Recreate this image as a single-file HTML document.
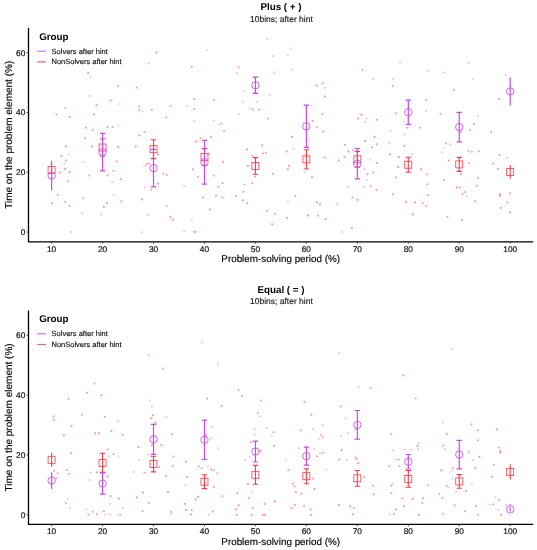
<!DOCTYPE html>
<html><head><meta charset="utf-8"><title>Time on the problem element</title>
<style>
html,body{margin:0;padding:0;background:#fff;}
svg{display:block;}
text{font-family:"Liberation Sans", Arial, Helvetica, sans-serif;fill:#000;text-rendering:geometricPrecision;}
.t{font-size:9.8px;font-weight:bold;text-anchor:middle;}
.st{font-size:8.5px;text-anchor:middle;fill:#111;stroke:#111;stroke-width:0.12px;}
.yl{font-size:8.3px;text-anchor:end;fill:#111;stroke:#111;stroke-width:0.2px;}
.xl{font-size:8.3px;text-anchor:middle;fill:#111;stroke:#111;stroke-width:0.2px;}
.at{font-size:9.85px;text-anchor:middle;stroke:#000;stroke-width:0.15px;}
.lt{font-size:9.8px;font-weight:bold;}
.lx{font-size:7.5px;fill:#111;stroke:#111;stroke-width:0.15px;}
.ax{stroke:#000;stroke-width:1.3;fill:none;}
.tk{stroke:#333;stroke-width:0.9;fill:none;}
.ep{stroke:#cc48f0;stroke-width:1.2;fill:none;}
.er{stroke:#f83a4a;stroke-width:1.1;fill:none;}
.mci{stroke:#cc48f0;stroke-width:0.85;fill:none;}
.msq{stroke:#f83a4a;stroke-width:0.8;fill:none;}
.lp{stroke:#cc48f0;stroke-width:1.2;fill:none;opacity:.8}
.lr{stroke:#f83a4a;stroke-width:1.2;fill:none;opacity:.8}
.dr{fill:#ff3050;opacity:.5}
.dp{fill:#c458ff;opacity:.35}
</style></head>
<body>
<svg width="537" height="550" viewBox="0 0 537 550">
<rect width="537" height="550" fill="#fff"/>
<g>
<text x="281" y="10.3" class="t">Plus ( + )</text>
<text x="281.4" y="21.8" class="st">10bins; after hint</text>
<circle cx="156.3" cy="52.5" r="1.05" class="dr"/>
<circle cx="148.8" cy="63.4" r="1.1" class="dp"/>
<circle cx="88.1" cy="72.9" r="1.05" class="dr"/>
<circle cx="90.9" cy="77.2" r="1.1" class="dp"/>
<circle cx="118.1" cy="86.1" r="1.05" class="dr"/>
<circle cx="136.8" cy="87.6" r="1.05" class="dr"/>
<circle cx="90.1" cy="95.9" r="1.1" class="dp"/>
<circle cx="110.6" cy="100.4" r="1.05" class="dr"/>
<circle cx="96.4" cy="105.0" r="1.05" class="dr"/>
<circle cx="119.7" cy="104.0" r="1.1" class="dp"/>
<circle cx="64.9" cy="107.9" r="1.1" class="dp"/>
<circle cx="267.3" cy="39.2" r="1.1" class="dp"/>
<circle cx="207.2" cy="50.5" r="1.1" class="dp"/>
<circle cx="291.0" cy="48.5" r="1.1" class="dp"/>
<circle cx="273.1" cy="56.2" r="1.1" class="dp"/>
<circle cx="287.8" cy="55.5" r="1.1" class="dp"/>
<circle cx="191.7" cy="66.7" r="1.05" class="dr"/>
<circle cx="238.6" cy="67.2" r="1.05" class="dr"/>
<circle cx="237.1" cy="72.9" r="1.1" class="dp"/>
<circle cx="274.6" cy="72.4" r="1.1" class="dp"/>
<circle cx="292.0" cy="69.7" r="1.1" class="dp"/>
<circle cx="243.4" cy="91.1" r="1.1" class="dp"/>
<circle cx="269.8" cy="94.9" r="1.1" class="dp"/>
<circle cx="194.2" cy="99.0" r="1.05" class="dr"/>
<circle cx="400.1" cy="62.2" r="1.1" class="dp"/>
<circle cx="428.0" cy="71.2" r="1.1" class="dp"/>
<circle cx="362.6" cy="69.7" r="1.05" class="dr"/>
<circle cx="373.1" cy="78.9" r="1.1" class="dp"/>
<circle cx="393.3" cy="79.2" r="1.1" class="dp"/>
<circle cx="393.1" cy="86.1" r="1.05" class="dr"/>
<circle cx="322.7" cy="83.2" r="1.05" class="dr"/>
<circle cx="316.5" cy="85.6" r="1.05" class="dr"/>
<circle cx="325.2" cy="87.9" r="1.1" class="dp"/>
<circle cx="325.0" cy="96.6" r="1.05" class="dr"/>
<circle cx="468.5" cy="62.9" r="1.1" class="dp"/>
<circle cx="443.8" cy="72.6" r="1.1" class="dp"/>
<circle cx="472.8" cy="79.3" r="1.1" class="dp"/>
<circle cx="505.6" cy="75.0" r="1.1" class="dp"/>
<circle cx="453.7" cy="89.8" r="1.05" class="dr"/>
<circle cx="499.1" cy="99.0" r="1.05" class="dr"/>
<circle cx="139.3" cy="106.5" r="1.05" class="dr"/>
<circle cx="139.3" cy="110.2" r="1.05" class="dr"/>
<circle cx="142.6" cy="111.5" r="1.1" class="dp"/>
<circle cx="151.8" cy="109.7" r="1.05" class="dr"/>
<circle cx="56.5" cy="114.5" r="1.05" class="dr"/>
<circle cx="69.7" cy="117.0" r="1.05" class="dr"/>
<circle cx="93.9" cy="114.5" r="1.05" class="dr"/>
<circle cx="85.9" cy="127.7" r="1.05" class="dr"/>
<circle cx="92.4" cy="130.2" r="1.05" class="dr"/>
<circle cx="107.6" cy="127.0" r="1.05" class="dr"/>
<circle cx="112.6" cy="127.0" r="1.05" class="dr"/>
<circle cx="118.1" cy="125.5" r="1.1" class="dp"/>
<circle cx="144.5" cy="132.2" r="1.05" class="dr"/>
<circle cx="139.3" cy="135.4" r="1.05" class="dr"/>
<circle cx="85.2" cy="138.4" r="1.05" class="dr"/>
<circle cx="65.9" cy="146.4" r="1.05" class="dr"/>
<circle cx="91.9" cy="146.4" r="1.05" class="dr"/>
<circle cx="118.1" cy="146.9" r="1.05" class="dr"/>
<circle cx="135.8" cy="146.4" r="1.05" class="dr"/>
<circle cx="61.4" cy="155.9" r="1.05" class="dr"/>
<circle cx="68.4" cy="154.4" r="1.1" class="dp"/>
<circle cx="65.9" cy="160.4" r="1.05" class="dr"/>
<circle cx="64.4" cy="163.4" r="1.1" class="dp"/>
<circle cx="83.4" cy="162.1" r="1.1" class="dp"/>
<circle cx="116.8" cy="161.4" r="1.05" class="dr"/>
<circle cx="146.3" cy="164.4" r="1.05" class="dr"/>
<circle cx="144.3" cy="166.4" r="1.1" class="dp"/>
<circle cx="148.8" cy="163.4" r="1.05" class="dr"/>
<circle cx="65.2" cy="168.9" r="1.05" class="dr"/>
<circle cx="158.0" cy="154.4" r="1.05" class="dr"/>
<circle cx="213.7" cy="100.2" r="1.05" class="dr"/>
<circle cx="170.5" cy="105.7" r="1.05" class="dr"/>
<circle cx="187.2" cy="106.0" r="1.1" class="dp"/>
<circle cx="194.2" cy="109.0" r="1.05" class="dr"/>
<circle cx="242.9" cy="101.5" r="1.1" class="dp"/>
<circle cx="256.6" cy="102.0" r="1.1" class="dp"/>
<circle cx="249.8" cy="108.5" r="1.1" class="dp"/>
<circle cx="252.8" cy="109.5" r="1.05" class="dr"/>
<circle cx="259.1" cy="109.7" r="1.05" class="dr"/>
<circle cx="239.1" cy="114.0" r="1.1" class="dp"/>
<circle cx="166.2" cy="117.2" r="1.05" class="dr"/>
<circle cx="267.8" cy="118.5" r="1.05" class="dr"/>
<circle cx="194.2" cy="121.0" r="1.1" class="dp"/>
<circle cx="214.2" cy="120.7" r="1.1" class="dp"/>
<circle cx="221.6" cy="123.2" r="1.05" class="dr"/>
<circle cx="219.2" cy="124.7" r="1.1" class="dp"/>
<circle cx="224.1" cy="131.0" r="1.05" class="dr"/>
<circle cx="210.9" cy="136.9" r="1.05" class="dr"/>
<circle cx="200.4" cy="138.2" r="1.05" class="dr"/>
<circle cx="196.2" cy="141.4" r="1.05" class="dr"/>
<circle cx="292.0" cy="136.9" r="1.05" class="dr"/>
<circle cx="262.3" cy="145.2" r="1.05" class="dr"/>
<circle cx="247.1" cy="149.4" r="1.05" class="dr"/>
<circle cx="262.8" cy="153.4" r="1.05" class="dr"/>
<circle cx="265.8" cy="152.7" r="1.05" class="dr"/>
<circle cx="286.5" cy="151.4" r="1.05" class="dr"/>
<circle cx="293.3" cy="148.9" r="1.1" class="dp"/>
<circle cx="209.2" cy="153.9" r="1.05" class="dr"/>
<circle cx="252.3" cy="155.6" r="1.05" class="dr"/>
<circle cx="222.9" cy="161.9" r="1.05" class="dr"/>
<circle cx="247.9" cy="165.9" r="1.05" class="dr"/>
<circle cx="289.0" cy="165.9" r="1.05" class="dr"/>
<circle cx="287.8" cy="169.4" r="1.05" class="dr"/>
<circle cx="193.0" cy="169.4" r="1.05" class="dr"/>
<circle cx="311.5" cy="106.0" r="1.1" class="dp"/>
<circle cx="322.5" cy="114.0" r="1.05" class="dr"/>
<circle cx="312.7" cy="121.0" r="1.05" class="dr"/>
<circle cx="317.0" cy="127.2" r="1.05" class="dr"/>
<circle cx="323.2" cy="131.4" r="1.05" class="dr"/>
<circle cx="309.0" cy="139.0" r="1.1" class="dp"/>
<circle cx="361.4" cy="114.7" r="1.05" class="dr"/>
<circle cx="358.1" cy="118.5" r="1.05" class="dr"/>
<circle cx="366.4" cy="118.5" r="1.1" class="dp"/>
<circle cx="364.9" cy="122.0" r="1.1" class="dp"/>
<circle cx="376.9" cy="119.7" r="1.05" class="dr"/>
<circle cx="396.3" cy="113.2" r="1.05" class="dr"/>
<circle cx="426.3" cy="100.2" r="1.05" class="dr"/>
<circle cx="426.3" cy="111.0" r="1.1" class="dp"/>
<circle cx="403.8" cy="122.0" r="1.1" class="dp"/>
<circle cx="407.3" cy="127.7" r="1.05" class="dr"/>
<circle cx="419.8" cy="127.7" r="1.05" class="dr"/>
<circle cx="390.6" cy="131.0" r="1.1" class="dp"/>
<circle cx="404.3" cy="134.4" r="1.1" class="dp"/>
<circle cx="374.4" cy="136.9" r="1.05" class="dr"/>
<circle cx="365.1" cy="140.9" r="1.05" class="dr"/>
<circle cx="389.3" cy="143.4" r="1.1" class="dp"/>
<circle cx="376.9" cy="144.4" r="1.05" class="dr"/>
<circle cx="344.9" cy="144.7" r="1.05" class="dr"/>
<circle cx="371.9" cy="147.2" r="1.05" class="dr"/>
<circle cx="404.3" cy="145.9" r="1.05" class="dr"/>
<circle cx="353.2" cy="150.2" r="1.05" class="dr"/>
<circle cx="348.2" cy="151.4" r="1.05" class="dr"/>
<circle cx="344.4" cy="156.9" r="1.05" class="dr"/>
<circle cx="324.5" cy="157.6" r="1.05" class="dr"/>
<circle cx="389.8" cy="154.4" r="1.05" class="dr"/>
<circle cx="398.8" cy="156.9" r="1.05" class="dr"/>
<circle cx="338.7" cy="160.6" r="1.05" class="dr"/>
<circle cx="369.9" cy="159.6" r="1.1" class="dp"/>
<circle cx="376.9" cy="163.1" r="1.05" class="dr"/>
<circle cx="364.4" cy="168.9" r="1.1" class="dp"/>
<circle cx="398.1" cy="166.9" r="1.05" class="dr"/>
<circle cx="421.0" cy="169.4" r="1.05" class="dr"/>
<circle cx="412.2" cy="154.1" r="1.1" class="dp"/>
<circle cx="440.5" cy="113.8" r="1.05" class="dr"/>
<circle cx="478.0" cy="115.8" r="1.1" class="dp"/>
<circle cx="474.0" cy="124.1" r="1.05" class="dr"/>
<circle cx="469.9" cy="130.0" r="1.05" class="dr"/>
<circle cx="491.2" cy="132.0" r="1.05" class="dr"/>
<circle cx="461.0" cy="132.2" r="1.05" class="dr"/>
<circle cx="445.8" cy="143.4" r="1.05" class="dr"/>
<circle cx="450.3" cy="144.4" r="1.1" class="dp"/>
<circle cx="444.4" cy="148.0" r="1.1" class="dp"/>
<circle cx="441.9" cy="152.3" r="1.1" class="dp"/>
<circle cx="468.1" cy="150.7" r="1.05" class="dr"/>
<circle cx="471.9" cy="151.7" r="1.05" class="dr"/>
<circle cx="478.8" cy="151.3" r="1.05" class="dr"/>
<circle cx="499.5" cy="154.9" r="1.05" class="dr"/>
<circle cx="507.4" cy="158.2" r="1.1" class="dp"/>
<circle cx="448.8" cy="160.6" r="1.05" class="dr"/>
<circle cx="468.9" cy="163.2" r="1.05" class="dr"/>
<circle cx="493.2" cy="163.5" r="1.05" class="dr"/>
<circle cx="498.1" cy="169.1" r="1.05" class="dr"/>
<circle cx="60.2" cy="172.5" r="1.05" class="dr"/>
<circle cx="69.4" cy="172.0" r="1.05" class="dr"/>
<circle cx="67.7" cy="181.2" r="1.05" class="dr"/>
<circle cx="89.4" cy="175.5" r="1.05" class="dr"/>
<circle cx="107.6" cy="175.5" r="1.05" class="dr"/>
<circle cx="113.4" cy="170.7" r="1.05" class="dr"/>
<circle cx="112.1" cy="182.0" r="1.1" class="dp"/>
<circle cx="120.8" cy="179.2" r="1.05" class="dr"/>
<circle cx="57.7" cy="195.0" r="1.05" class="dr"/>
<circle cx="52.0" cy="203.2" r="1.05" class="dr"/>
<circle cx="65.2" cy="201.7" r="1.05" class="dr"/>
<circle cx="69.4" cy="205.7" r="1.05" class="dr"/>
<circle cx="83.4" cy="198.2" r="1.05" class="dr"/>
<circle cx="113.4" cy="195.0" r="1.1" class="dp"/>
<circle cx="121.3" cy="201.2" r="1.05" class="dr"/>
<circle cx="106.9" cy="203.2" r="1.05" class="dr"/>
<circle cx="103.9" cy="206.9" r="1.05" class="dr"/>
<circle cx="82.2" cy="213.2" r="1.1" class="dp"/>
<circle cx="101.4" cy="214.4" r="1.1" class="dp"/>
<circle cx="70.9" cy="231.9" r="1.1" class="dp"/>
<circle cx="145.0" cy="187.5" r="1.1" class="dp"/>
<circle cx="151.3" cy="189.5" r="1.05" class="dr"/>
<circle cx="158.0" cy="183.7" r="1.05" class="dr"/>
<circle cx="141.8" cy="199.4" r="1.05" class="dr"/>
<circle cx="148.3" cy="214.9" r="1.1" class="dp"/>
<circle cx="141.8" cy="232.4" r="1.1" class="dp"/>
<circle cx="163.3" cy="173.7" r="1.05" class="dr"/>
<circle cx="166.7" cy="175.0" r="1.05" class="dr"/>
<circle cx="197.9" cy="177.0" r="1.05" class="dr"/>
<circle cx="213.7" cy="175.5" r="1.05" class="dr"/>
<circle cx="222.4" cy="183.2" r="1.05" class="dr"/>
<circle cx="218.4" cy="186.7" r="1.05" class="dr"/>
<circle cx="184.2" cy="186.2" r="1.1" class="dp"/>
<circle cx="202.9" cy="197.5" r="1.05" class="dr"/>
<circle cx="215.9" cy="195.7" r="1.05" class="dr"/>
<circle cx="222.4" cy="197.5" r="1.05" class="dr"/>
<circle cx="166.7" cy="206.2" r="1.1" class="dp"/>
<circle cx="209.9" cy="209.4" r="1.05" class="dr"/>
<circle cx="170.5" cy="216.9" r="1.05" class="dr"/>
<circle cx="173.0" cy="219.9" r="1.05" class="dr"/>
<circle cx="191.7" cy="219.4" r="1.1" class="dp"/>
<circle cx="184.2" cy="231.1" r="1.1" class="dp"/>
<circle cx="195.4" cy="231.9" r="1.05" class="dr"/>
<circle cx="193.4" cy="231.9" r="1.1" class="dp"/>
<circle cx="272.8" cy="173.7" r="1.05" class="dr"/>
<circle cx="255.3" cy="176.6" r="1.05" class="dr"/>
<circle cx="252.3" cy="183.2" r="1.05" class="dr"/>
<circle cx="244.6" cy="184.5" r="1.05" class="dr"/>
<circle cx="243.6" cy="191.7" r="1.05" class="dr"/>
<circle cx="236.1" cy="195.7" r="1.05" class="dr"/>
<circle cx="242.9" cy="200.4" r="1.05" class="dr"/>
<circle cx="247.1" cy="203.2" r="1.05" class="dr"/>
<circle cx="295.3" cy="195.7" r="1.05" class="dr"/>
<circle cx="287.8" cy="201.7" r="1.1" class="dp"/>
<circle cx="267.1" cy="210.7" r="1.05" class="dr"/>
<circle cx="274.8" cy="213.7" r="1.05" class="dr"/>
<circle cx="287.0" cy="217.9" r="1.05" class="dr"/>
<circle cx="272.1" cy="224.4" r="1.05" class="dr"/>
<circle cx="304.5" cy="172.0" r="1.1" class="dp"/>
<circle cx="312.0" cy="177.0" r="1.05" class="dr"/>
<circle cx="367.4" cy="174.2" r="1.05" class="dr"/>
<circle cx="373.4" cy="172.5" r="1.05" class="dr"/>
<circle cx="366.9" cy="180.0" r="1.1" class="dp"/>
<circle cx="348.2" cy="186.7" r="1.1" class="dp"/>
<circle cx="363.9" cy="186.7" r="1.1" class="dp"/>
<circle cx="370.6" cy="186.2" r="1.05" class="dr"/>
<circle cx="376.4" cy="190.0" r="1.05" class="dr"/>
<circle cx="352.4" cy="197.5" r="1.05" class="dr"/>
<circle cx="357.4" cy="199.9" r="1.05" class="dr"/>
<circle cx="337.4" cy="203.7" r="1.1" class="dp"/>
<circle cx="317.0" cy="202.4" r="1.05" class="dr"/>
<circle cx="320.0" cy="204.4" r="1.05" class="dr"/>
<circle cx="308.2" cy="215.4" r="1.05" class="dr"/>
<circle cx="318.0" cy="215.7" r="1.05" class="dr"/>
<circle cx="325.7" cy="219.2" r="1.05" class="dr"/>
<circle cx="351.9" cy="228.1" r="1.05" class="dr"/>
<circle cx="341.4" cy="231.9" r="1.1" class="dp"/>
<circle cx="396.1" cy="177.5" r="1.05" class="dr"/>
<circle cx="426.8" cy="174.2" r="1.05" class="dr"/>
<circle cx="427.3" cy="184.2" r="1.05" class="dr"/>
<circle cx="393.1" cy="194.2" r="1.05" class="dr"/>
<circle cx="428.0" cy="195.0" r="1.05" class="dr"/>
<circle cx="406.1" cy="201.9" r="1.05" class="dr"/>
<circle cx="415.0" cy="202.4" r="1.05" class="dr"/>
<circle cx="422.5" cy="203.2" r="1.05" class="dr"/>
<circle cx="426.3" cy="206.2" r="1.05" class="dr"/>
<circle cx="413.0" cy="214.4" r="1.05" class="dr"/>
<circle cx="461.0" cy="174.3" r="1.05" class="dr"/>
<circle cx="443.8" cy="179.9" r="1.05" class="dr"/>
<circle cx="477.8" cy="177.9" r="1.05" class="dr"/>
<circle cx="456.7" cy="187.4" r="1.05" class="dr"/>
<circle cx="459.8" cy="187.4" r="1.05" class="dr"/>
<circle cx="477.0" cy="185.8" r="1.05" class="dr"/>
<circle cx="465.1" cy="192.1" r="1.05" class="dr"/>
<circle cx="462.6" cy="194.1" r="1.05" class="dr"/>
<circle cx="466.5" cy="196.3" r="1.1" class="dp"/>
<circle cx="475.0" cy="201.0" r="1.05" class="dr"/>
<circle cx="447.4" cy="216.8" r="1.05" class="dr"/>
<circle cx="462.0" cy="219.9" r="1.05" class="dr"/>
<circle cx="499.7" cy="194.1" r="1.05" class="dr"/>
<circle cx="500.1" cy="195.9" r="1.05" class="dr"/>
<circle cx="510.0" cy="193.3" r="1.05" class="dr"/>
<circle cx="507.4" cy="202.2" r="1.05" class="dr"/>
<circle cx="500.7" cy="207.9" r="1.05" class="dr"/>
<circle cx="510.0" cy="212.4" r="1.05" class="dr"/>
<path d="M51.60 167.60V172.20" class="er"/>
<rect x="48.10" y="166.40" width="7" height="7" class="msq"/>
<path d="M51.60 160.80V190.60" class="ep"/>
<circle cx="51.60" cy="175.70" r="3.7" class="mci"/>
<path d="M102.56 139.00V156.00M99.86 139.00H105.26M99.86 156.00H105.26" class="er"/>
<rect x="99.06" y="144.00" width="7" height="7" class="msq"/>
<path d="M102.56 133.40V170.90M99.86 133.40H105.26M99.86 170.90H105.26" class="ep"/>
<circle cx="102.56" cy="152.15" r="3.7" class="mci"/>
<path d="M153.51 139.70V158.60M150.81 139.70H156.21M150.81 158.60H156.21" class="er"/>
<rect x="150.01" y="145.70" width="7" height="7" class="msq"/>
<path d="M153.51 149.40V186.80M150.81 149.40H156.21M150.81 186.80H156.21" class="ep"/>
<circle cx="153.51" cy="168.10" r="3.7" class="mci"/>
<path d="M204.47 148.60V165.50M201.77 148.60H207.17M201.77 165.50H207.17" class="er"/>
<rect x="200.97" y="153.55" width="7" height="7" class="msq"/>
<path d="M204.47 140.30V184.10M201.77 140.30H207.17M201.77 184.10H207.17" class="ep"/>
<circle cx="204.47" cy="162.20" r="3.7" class="mci"/>
<path d="M255.42 157.60V174.30M252.72 157.60H258.12M252.72 174.30H258.12" class="er"/>
<rect x="251.92" y="162.45" width="7" height="7" class="msq"/>
<path d="M255.42 77.20V93.40M252.72 77.20H258.12M252.72 93.40H258.12" class="ep"/>
<circle cx="255.42" cy="85.30" r="3.7" class="mci"/>
<path d="M306.38 149.70V169.00M303.68 149.70H309.08M303.68 169.00H309.08" class="er"/>
<rect x="302.88" y="155.85" width="7" height="7" class="msq"/>
<path d="M306.38 105.20V147.30M303.68 105.20H309.08M303.68 147.30H309.08" class="ep"/>
<circle cx="306.38" cy="126.30" r="3.7" class="mci"/>
<path d="M357.34 151.40V167.30M354.64 151.40H360.04M354.64 167.30H360.04" class="er"/>
<rect x="353.84" y="155.85" width="7" height="7" class="msq"/>
<path d="M357.34 148.50V178.90M354.64 148.50H360.04M354.64 178.90H360.04" class="ep"/>
<circle cx="357.34" cy="163.80" r="3.7" class="mci"/>
<path d="M408.29 157.20V172.30M405.59 157.20H410.99M405.59 172.30H410.99" class="er"/>
<rect x="404.79" y="161.25" width="7" height="7" class="msq"/>
<path d="M408.29 100.20V124.30M405.59 100.20H410.99M405.59 124.30H410.99" class="ep"/>
<circle cx="408.29" cy="112.25" r="3.7" class="mci"/>
<path d="M459.25 157.40V171.40M456.55 157.40H461.95M456.55 171.40H461.95" class="er"/>
<rect x="455.75" y="160.90" width="7" height="7" class="msq"/>
<path d="M459.25 112.30V141.90M456.55 112.30H461.95M456.55 141.90H461.95" class="ep"/>
<circle cx="459.25" cy="127.10" r="3.7" class="mci"/>
<path d="M510.20 165.10V178.70" class="er"/>
<rect x="506.70" y="168.40" width="7" height="7" class="msq"/>
<path d="M510.20 77.50V105.50" class="ep"/>
<circle cx="510.20" cy="91.50" r="3.7" class="mci"/>
<path d="M28.5 27.8V242.4M27.85 241.8H533.2" class="ax"/>
<path d="M26.6 232.10H28.5" class="tk"/>
<text x="25.3" y="234.95" class="yl">0</text>
<path d="M26.6 172.30H28.5" class="tk"/>
<text x="25.3" y="175.15" class="yl">20</text>
<path d="M26.6 112.50H28.5" class="tk"/>
<text x="25.3" y="115.35" class="yl">40</text>
<path d="M26.6 52.70H28.5" class="tk"/>
<text x="25.3" y="55.55" class="yl">60</text>
<path d="M51.60 241.8V243.7" class="tk"/>
<text x="51.60" y="251.9" class="xl">10</text>
<path d="M102.56 241.8V243.7" class="tk"/>
<text x="102.56" y="251.9" class="xl">20</text>
<path d="M153.51 241.8V243.7" class="tk"/>
<text x="153.51" y="251.9" class="xl">30</text>
<path d="M204.47 241.8V243.7" class="tk"/>
<text x="204.47" y="251.9" class="xl">40</text>
<path d="M255.42 241.8V243.7" class="tk"/>
<text x="255.42" y="251.9" class="xl">50</text>
<path d="M306.38 241.8V243.7" class="tk"/>
<text x="306.38" y="251.9" class="xl">60</text>
<path d="M357.34 241.8V243.7" class="tk"/>
<text x="357.34" y="251.9" class="xl">70</text>
<path d="M408.29 241.8V243.7" class="tk"/>
<text x="408.29" y="251.9" class="xl">80</text>
<path d="M459.25 241.8V243.7" class="tk"/>
<text x="459.25" y="251.9" class="xl">90</text>
<path d="M510.20 241.8V243.7" class="tk"/>
<text x="510.20" y="251.9" class="xl">100</text>
<text x="280.7" y="262.1" class="at">Problem-solving period (%)</text>
<text transform="translate(11.8,134.8) rotate(-90)" x="0" y="0" class="at" style="font-size:10px">Time on the problem element (%)</text>
<text x="39.2" y="39.7" class="lt">Group</text>
<path d="M37.1 51.2H46" class="lp"/><path d="M37.1 61.9H46" class="lr"/>
<text x="51.6" y="53.8" class="lx">Solvers after hint</text>
<text x="51.5" y="64.4" class="lx">NonSolvers after hint</text>
</g>
<g transform="translate(0,282.6)">
<text x="281" y="10.3" class="t">Equal ( = )</text>
<text x="281.4" y="21.8" class="st">10bins; after hint</text>
<circle cx="148.8" cy="72.3" r="1.1" class="dp"/>
<circle cx="163.0" cy="86.0" r="1.05" class="dr"/>
<circle cx="201.7" cy="59.8" r="1.1" class="dp"/>
<circle cx="217.9" cy="81.8" r="1.1" class="dp"/>
<circle cx="339.4" cy="70.3" r="1.1" class="dp"/>
<circle cx="403.6" cy="92.8" r="1.05" class="dr"/>
<circle cx="452.1" cy="66.3" r="1.1" class="dp"/>
<circle cx="94.4" cy="100.9" r="1.05" class="dr"/>
<circle cx="86.9" cy="110.1" r="1.05" class="dr"/>
<circle cx="101.4" cy="112.6" r="1.05" class="dr"/>
<circle cx="68.4" cy="116.4" r="1.05" class="dr"/>
<circle cx="53.5" cy="133.8" r="1.05" class="dr"/>
<circle cx="54.0" cy="137.1" r="1.05" class="dr"/>
<circle cx="81.9" cy="132.1" r="1.05" class="dr"/>
<circle cx="105.1" cy="134.1" r="1.05" class="dr"/>
<circle cx="118.1" cy="138.3" r="1.1" class="dp"/>
<circle cx="71.4" cy="143.3" r="1.05" class="dr"/>
<circle cx="111.4" cy="148.3" r="1.05" class="dr"/>
<circle cx="95.1" cy="150.8" r="1.05" class="dr"/>
<circle cx="98.9" cy="150.8" r="1.05" class="dr"/>
<circle cx="122.6" cy="152.1" r="1.05" class="dr"/>
<circle cx="63.9" cy="152.8" r="1.05" class="dr"/>
<circle cx="107.6" cy="167.0" r="1.05" class="dr"/>
<circle cx="150.0" cy="117.9" r="1.1" class="dp"/>
<circle cx="152.0" cy="124.1" r="1.1" class="dp"/>
<circle cx="153.0" cy="132.8" r="1.05" class="dr"/>
<circle cx="151.3" cy="135.8" r="1.05" class="dr"/>
<circle cx="155.5" cy="140.3" r="1.05" class="dr"/>
<circle cx="138.3" cy="164.5" r="1.05" class="dr"/>
<circle cx="152.0" cy="162.5" r="1.05" class="dr"/>
<circle cx="161.3" cy="162.5" r="1.05" class="dr"/>
<circle cx="238.4" cy="107.1" r="1.05" class="dr"/>
<circle cx="242.1" cy="113.4" r="1.05" class="dr"/>
<circle cx="207.2" cy="115.9" r="1.05" class="dr"/>
<circle cx="221.6" cy="123.4" r="1.05" class="dr"/>
<circle cx="260.8" cy="117.9" r="1.05" class="dr"/>
<circle cx="257.8" cy="130.1" r="1.05" class="dr"/>
<circle cx="259.8" cy="133.8" r="1.1" class="dp"/>
<circle cx="166.2" cy="134.6" r="1.1" class="dp"/>
<circle cx="211.7" cy="144.6" r="1.1" class="dp"/>
<circle cx="171.7" cy="151.6" r="1.05" class="dr"/>
<circle cx="205.9" cy="152.6" r="1.05" class="dr"/>
<circle cx="211.2" cy="155.8" r="1.1" class="dp"/>
<circle cx="254.8" cy="146.6" r="1.1" class="dp"/>
<circle cx="254.6" cy="152.1" r="1.1" class="dp"/>
<circle cx="266.6" cy="145.3" r="1.1" class="dp"/>
<circle cx="273.6" cy="149.6" r="1.05" class="dr"/>
<circle cx="271.6" cy="152.8" r="1.1" class="dp"/>
<circle cx="251.1" cy="159.5" r="1.05" class="dr"/>
<circle cx="218.4" cy="165.8" r="1.1" class="dp"/>
<circle cx="274.1" cy="163.3" r="1.05" class="dr"/>
<circle cx="260.3" cy="168.3" r="1.05" class="dr"/>
<circle cx="358.6" cy="104.6" r="1.1" class="dp"/>
<circle cx="370.6" cy="105.1" r="1.05" class="dr"/>
<circle cx="415.5" cy="115.9" r="1.05" class="dr"/>
<circle cx="304.5" cy="119.1" r="1.05" class="dr"/>
<circle cx="340.7" cy="123.9" r="1.05" class="dr"/>
<circle cx="311.2" cy="132.1" r="1.05" class="dr"/>
<circle cx="345.7" cy="135.8" r="1.1" class="dp"/>
<circle cx="322.7" cy="142.6" r="1.1" class="dp"/>
<circle cx="300.7" cy="147.6" r="1.05" class="dr"/>
<circle cx="313.2" cy="146.3" r="1.1" class="dp"/>
<circle cx="321.2" cy="152.1" r="1.05" class="dr"/>
<circle cx="322.7" cy="154.6" r="1.05" class="dr"/>
<circle cx="319.5" cy="156.3" r="1.1" class="dp"/>
<circle cx="340.7" cy="153.3" r="1.1" class="dp"/>
<circle cx="347.7" cy="150.8" r="1.1" class="dp"/>
<circle cx="391.3" cy="151.6" r="1.05" class="dr"/>
<circle cx="298.7" cy="165.8" r="1.1" class="dp"/>
<circle cx="314.0" cy="166.3" r="1.1" class="dp"/>
<circle cx="341.4" cy="167.5" r="1.05" class="dr"/>
<circle cx="393.1" cy="167.8" r="1.1" class="dp"/>
<circle cx="404.8" cy="167.0" r="1.1" class="dp"/>
<circle cx="411.8" cy="167.0" r="1.1" class="dp"/>
<circle cx="418.5" cy="160.8" r="1.1" class="dp"/>
<circle cx="417.5" cy="163.3" r="1.05" class="dr"/>
<circle cx="418.0" cy="166.3" r="1.1" class="dp"/>
<circle cx="355.7" cy="146.8" r="1.05" class="dr"/>
<circle cx="442.8" cy="139.9" r="1.1" class="dp"/>
<circle cx="471.5" cy="141.8" r="1.05" class="dr"/>
<circle cx="477.8" cy="147.7" r="1.05" class="dr"/>
<circle cx="496.7" cy="146.8" r="1.05" class="dr"/>
<circle cx="446.8" cy="151.3" r="1.05" class="dr"/>
<circle cx="477.8" cy="157.6" r="1.05" class="dr"/>
<circle cx="443.4" cy="162.9" r="1.05" class="dr"/>
<circle cx="444.8" cy="166.5" r="1.1" class="dp"/>
<circle cx="499.1" cy="164.9" r="1.05" class="dr"/>
<circle cx="500.1" cy="168.5" r="1.05" class="dr"/>
<circle cx="468.5" cy="168.5" r="1.1" class="dp"/>
<circle cx="70.9" cy="170.6" r="1.05" class="dr"/>
<circle cx="54.0" cy="188.1" r="1.05" class="dr"/>
<circle cx="57.7" cy="190.6" r="1.05" class="dr"/>
<circle cx="56.5" cy="195.6" r="1.05" class="dr"/>
<circle cx="66.9" cy="187.4" r="1.05" class="dr"/>
<circle cx="68.9" cy="191.4" r="1.05" class="dr"/>
<circle cx="90.9" cy="190.1" r="1.1" class="dp"/>
<circle cx="89.6" cy="197.3" r="1.1" class="dp"/>
<circle cx="96.9" cy="189.8" r="1.05" class="dr"/>
<circle cx="107.6" cy="193.8" r="1.05" class="dr"/>
<circle cx="108.9" cy="173.9" r="1.1" class="dp"/>
<circle cx="113.4" cy="171.4" r="1.05" class="dr"/>
<circle cx="118.8" cy="173.9" r="1.1" class="dp"/>
<circle cx="138.8" cy="177.4" r="1.1" class="dp"/>
<circle cx="133.3" cy="189.3" r="1.1" class="dp"/>
<circle cx="144.5" cy="190.1" r="1.05" class="dr"/>
<circle cx="148.3" cy="172.4" r="1.1" class="dp"/>
<circle cx="159.3" cy="184.4" r="1.05" class="dr"/>
<circle cx="67.7" cy="216.2" r="1.1" class="dp"/>
<circle cx="65.9" cy="220.5" r="1.05" class="dr"/>
<circle cx="70.2" cy="225.5" r="1.1" class="dp"/>
<circle cx="86.4" cy="226.7" r="1.1" class="dp"/>
<circle cx="88.4" cy="232.2" r="1.05" class="dr"/>
<circle cx="92.6" cy="229.2" r="1.05" class="dr"/>
<circle cx="96.9" cy="231.7" r="1.05" class="dr"/>
<circle cx="103.9" cy="228.7" r="1.05" class="dr"/>
<circle cx="105.1" cy="232.2" r="1.1" class="dp"/>
<circle cx="110.1" cy="231.7" r="1.1" class="dp"/>
<circle cx="110.1" cy="221.2" r="1.1" class="dp"/>
<circle cx="110.6" cy="213.7" r="1.05" class="dr"/>
<circle cx="118.8" cy="216.0" r="1.05" class="dr"/>
<circle cx="122.6" cy="225.5" r="1.1" class="dp"/>
<circle cx="120.1" cy="232.2" r="1.05" class="dr"/>
<circle cx="136.8" cy="215.0" r="1.05" class="dr"/>
<circle cx="143.0" cy="210.0" r="1.05" class="dr"/>
<circle cx="148.8" cy="220.5" r="1.05" class="dr"/>
<circle cx="142.6" cy="228.7" r="1.05" class="dr"/>
<circle cx="173.5" cy="173.9" r="1.05" class="dr"/>
<circle cx="186.0" cy="178.9" r="1.05" class="dr"/>
<circle cx="172.5" cy="183.1" r="1.05" class="dr"/>
<circle cx="198.7" cy="183.9" r="1.05" class="dr"/>
<circle cx="201.7" cy="185.6" r="1.05" class="dr"/>
<circle cx="207.9" cy="183.9" r="1.1" class="dp"/>
<circle cx="211.2" cy="186.9" r="1.05" class="dr"/>
<circle cx="213.7" cy="187.6" r="1.05" class="dr"/>
<circle cx="217.4" cy="190.6" r="1.05" class="dr"/>
<circle cx="166.2" cy="193.6" r="1.05" class="dr"/>
<circle cx="187.2" cy="194.4" r="1.05" class="dr"/>
<circle cx="185.5" cy="202.6" r="1.1" class="dp"/>
<circle cx="213.7" cy="204.3" r="1.05" class="dr"/>
<circle cx="168.0" cy="209.3" r="1.05" class="dr"/>
<circle cx="222.4" cy="213.6" r="1.05" class="dr"/>
<circle cx="197.9" cy="214.3" r="1.05" class="dr"/>
<circle cx="195.4" cy="216.8" r="1.05" class="dr"/>
<circle cx="185.0" cy="221.3" r="1.05" class="dr"/>
<circle cx="186.0" cy="227.3" r="1.05" class="dr"/>
<circle cx="191.7" cy="227.5" r="1.05" class="dr"/>
<circle cx="191.2" cy="231.8" r="1.05" class="dr"/>
<circle cx="212.9" cy="228.8" r="1.05" class="dr"/>
<circle cx="171.2" cy="229.3" r="1.05" class="dr"/>
<circle cx="170.5" cy="231.8" r="1.1" class="dp"/>
<circle cx="209.2" cy="232.3" r="1.1" class="dp"/>
<circle cx="245.4" cy="177.4" r="1.1" class="dp"/>
<circle cx="249.8" cy="174.4" r="1.1" class="dp"/>
<circle cx="285.8" cy="176.9" r="1.1" class="dp"/>
<circle cx="288.3" cy="187.4" r="1.05" class="dr"/>
<circle cx="247.9" cy="201.3" r="1.05" class="dr"/>
<circle cx="251.6" cy="209.8" r="1.1" class="dp"/>
<circle cx="237.4" cy="210.5" r="1.05" class="dr"/>
<circle cx="249.1" cy="215.5" r="1.05" class="dr"/>
<circle cx="274.8" cy="218.8" r="1.05" class="dr"/>
<circle cx="264.8" cy="221.3" r="1.05" class="dr"/>
<circle cx="238.6" cy="222.6" r="1.05" class="dr"/>
<circle cx="252.8" cy="225.5" r="1.05" class="dr"/>
<circle cx="235.9" cy="226.8" r="1.05" class="dr"/>
<circle cx="236.6" cy="232.3" r="1.05" class="dr"/>
<circle cx="251.6" cy="232.3" r="1.05" class="dr"/>
<circle cx="262.8" cy="232.3" r="1.05" class="dr"/>
<circle cx="264.8" cy="232.3" r="1.05" class="dr"/>
<circle cx="292.8" cy="201.1" r="1.05" class="dr"/>
<circle cx="294.5" cy="203.6" r="1.05" class="dr"/>
<circle cx="295.8" cy="209.3" r="1.05" class="dr"/>
<circle cx="294.8" cy="222.3" r="1.05" class="dr"/>
<circle cx="291.5" cy="225.5" r="1.05" class="dr"/>
<circle cx="320.0" cy="170.1" r="1.1" class="dp"/>
<circle cx="323.2" cy="170.1" r="1.05" class="dr"/>
<circle cx="317.0" cy="173.6" r="1.05" class="dr"/>
<circle cx="339.4" cy="176.9" r="1.05" class="dr"/>
<circle cx="346.4" cy="177.6" r="1.1" class="dp"/>
<circle cx="355.6" cy="174.9" r="1.05" class="dr"/>
<circle cx="356.9" cy="176.4" r="1.05" class="dr"/>
<circle cx="358.1" cy="180.6" r="1.05" class="dr"/>
<circle cx="326.4" cy="186.9" r="1.1" class="dp"/>
<circle cx="313.2" cy="196.1" r="1.05" class="dr"/>
<circle cx="363.9" cy="194.4" r="1.05" class="dr"/>
<circle cx="314.5" cy="206.3" r="1.05" class="dr"/>
<circle cx="301.5" cy="211.1" r="1.05" class="dr"/>
<circle cx="373.1" cy="203.1" r="1.05" class="dr"/>
<circle cx="373.6" cy="211.8" r="1.05" class="dr"/>
<circle cx="304.0" cy="223.1" r="1.05" class="dr"/>
<circle cx="310.7" cy="226.8" r="1.05" class="dr"/>
<circle cx="311.2" cy="232.3" r="1.05" class="dr"/>
<circle cx="338.9" cy="222.3" r="1.05" class="dr"/>
<circle cx="350.2" cy="223.6" r="1.05" class="dr"/>
<circle cx="353.7" cy="225.1" r="1.05" class="dr"/>
<circle cx="352.7" cy="231.8" r="1.05" class="dr"/>
<circle cx="395.6" cy="176.9" r="1.1" class="dp"/>
<circle cx="398.8" cy="176.9" r="1.05" class="dr"/>
<circle cx="389.3" cy="183.6" r="1.05" class="dr"/>
<circle cx="399.3" cy="183.6" r="1.05" class="dr"/>
<circle cx="392.6" cy="201.3" r="1.1" class="dp"/>
<circle cx="391.3" cy="203.1" r="1.05" class="dr"/>
<circle cx="391.3" cy="210.6" r="1.05" class="dr"/>
<circle cx="402.3" cy="215.6" r="1.05" class="dr"/>
<circle cx="412.5" cy="216.3" r="1.05" class="dr"/>
<circle cx="423.0" cy="215.6" r="1.05" class="dr"/>
<circle cx="422.3" cy="220.1" r="1.05" class="dr"/>
<circle cx="428.0" cy="202.6" r="1.05" class="dr"/>
<circle cx="404.3" cy="223.6" r="1.05" class="dr"/>
<circle cx="396.1" cy="226.8" r="1.05" class="dr"/>
<circle cx="393.8" cy="231.1" r="1.05" class="dr"/>
<circle cx="389.8" cy="231.8" r="1.1" class="dp"/>
<circle cx="418.8" cy="232.3" r="1.05" class="dr"/>
<circle cx="468.9" cy="170.0" r="1.1" class="dp"/>
<circle cx="479.4" cy="174.3" r="1.05" class="dr"/>
<circle cx="473.0" cy="177.3" r="1.1" class="dp"/>
<circle cx="500.1" cy="170.0" r="1.05" class="dr"/>
<circle cx="493.8" cy="182.2" r="1.05" class="dr"/>
<circle cx="452.7" cy="185.6" r="1.05" class="dr"/>
<circle cx="441.3" cy="187.8" r="1.05" class="dr"/>
<circle cx="450.7" cy="189.1" r="1.1" class="dp"/>
<circle cx="475.4" cy="185.6" r="1.05" class="dr"/>
<circle cx="452.3" cy="196.0" r="1.1" class="dp"/>
<circle cx="492.2" cy="194.1" r="1.05" class="dr"/>
<circle cx="471.9" cy="201.0" r="1.1" class="dp"/>
<circle cx="446.8" cy="203.4" r="1.05" class="dr"/>
<circle cx="448.8" cy="204.9" r="1.1" class="dp"/>
<circle cx="456.1" cy="209.3" r="1.1" class="dp"/>
<circle cx="466.1" cy="208.3" r="1.05" class="dr"/>
<circle cx="439.3" cy="211.4" r="1.05" class="dr"/>
<circle cx="442.4" cy="215.2" r="1.05" class="dr"/>
<circle cx="454.7" cy="222.7" r="1.05" class="dr"/>
<circle cx="476.0" cy="223.1" r="1.05" class="dr"/>
<circle cx="465.1" cy="228.6" r="1.05" class="dr"/>
<circle cx="442.8" cy="231.2" r="1.05" class="dr"/>
<circle cx="477.8" cy="232.2" r="1.05" class="dr"/>
<circle cx="495.2" cy="214.8" r="1.1" class="dp"/>
<circle cx="499.1" cy="217.8" r="1.05" class="dr"/>
<circle cx="489.8" cy="222.3" r="1.1" class="dp"/>
<circle cx="493.2" cy="221.7" r="1.05" class="dr"/>
<circle cx="498.1" cy="227.6" r="1.1" class="dp"/>
<circle cx="501.1" cy="232.2" r="1.05" class="dr"/>
<circle cx="506.0" cy="222.3" r="1.1" class="dp"/>
<circle cx="510.0" cy="222.3" r="1.05" class="dr"/>
<path d="M51.60 170.50V184.10" class="er"/>
<rect x="48.10" y="173.70" width="7" height="7" class="msq"/>
<path d="M51.60 189.60V206.50" class="ep"/>
<circle cx="51.60" cy="198.00" r="3.7" class="mci"/>
<path d="M102.56 170.70V189.80M99.86 170.70H105.26M99.86 189.80H105.26" class="er"/>
<rect x="99.06" y="176.75" width="7" height="7" class="msq"/>
<path d="M102.56 190.30V211.60M99.86 190.30H105.26M99.86 211.60H105.26" class="ep"/>
<circle cx="102.56" cy="200.95" r="3.7" class="mci"/>
<path d="M153.51 173.60V189.30M150.81 173.60H156.21M150.81 189.30H156.21" class="er"/>
<rect x="150.01" y="177.95" width="7" height="7" class="msq"/>
<path d="M153.51 141.70V171.70M150.81 141.70H156.21M150.81 171.70H156.21" class="ep"/>
<circle cx="153.51" cy="156.70" r="3.7" class="mci"/>
<path d="M204.47 192.20V206.00M201.77 192.20H207.17M201.77 206.00H207.17" class="er"/>
<rect x="200.97" y="195.60" width="7" height="7" class="msq"/>
<path d="M204.47 137.60V176.90M201.77 137.60H207.17M201.77 176.90H207.17" class="ep"/>
<circle cx="204.47" cy="157.25" r="3.7" class="mci"/>
<path d="M255.42 182.80V201.60M252.72 182.80H258.12M252.72 201.60H258.12" class="er"/>
<rect x="251.92" y="188.70" width="7" height="7" class="msq"/>
<path d="M255.42 158.50V179.40M252.72 158.50H258.12M252.72 179.40H258.12" class="ep"/>
<circle cx="255.42" cy="168.95" r="3.7" class="mci"/>
<path d="M306.38 186.10V201.10M303.68 186.10H309.08M303.68 201.10H309.08" class="er"/>
<rect x="302.88" y="190.10" width="7" height="7" class="msq"/>
<path d="M306.38 164.60V182.60M303.68 164.60H309.08M303.68 182.60H309.08" class="ep"/>
<circle cx="306.38" cy="173.60" r="3.7" class="mci"/>
<path d="M357.34 187.90V203.60M354.64 187.90H360.04M354.64 203.60H360.04" class="er"/>
<rect x="353.84" y="192.25" width="7" height="7" class="msq"/>
<path d="M357.34 127.90V156.60M354.64 127.90H360.04M354.64 156.60H360.04" class="ep"/>
<circle cx="357.34" cy="142.25" r="3.7" class="mci"/>
<path d="M408.29 187.90V204.70M405.59 187.90H410.99M405.59 204.70H410.99" class="er"/>
<rect x="404.79" y="192.80" width="7" height="7" class="msq"/>
<path d="M408.29 171.90V186.40M405.59 171.90H410.99M405.59 186.40H410.99" class="ep"/>
<circle cx="408.29" cy="179.15" r="3.7" class="mci"/>
<path d="M459.25 192.00V205.70M456.55 192.00H461.95M456.55 205.70H461.95" class="er"/>
<rect x="455.75" y="195.35" width="7" height="7" class="msq"/>
<path d="M459.25 157.80V186.20M456.55 157.80H461.95M456.55 186.20H461.95" class="ep"/>
<circle cx="459.25" cy="172.00" r="3.7" class="mci"/>
<path d="M510.20 181.60V197.00" class="er"/>
<rect x="506.70" y="185.80" width="7" height="7" class="msq"/>
<path d="M510.20 224.60V229.00" class="ep"/>
<circle cx="510.20" cy="226.80" r="3.7" class="mci"/>
<path d="M28.5 27.8V242.4M27.85 241.8H533.2" class="ax"/>
<path d="M26.6 232.10H28.5" class="tk"/>
<text x="25.3" y="234.95" class="yl">0</text>
<path d="M26.6 172.30H28.5" class="tk"/>
<text x="25.3" y="175.15" class="yl">20</text>
<path d="M26.6 112.50H28.5" class="tk"/>
<text x="25.3" y="115.35" class="yl">40</text>
<path d="M26.6 52.70H28.5" class="tk"/>
<text x="25.3" y="55.55" class="yl">60</text>
<path d="M51.60 241.8V243.7" class="tk"/>
<text x="51.60" y="251.9" class="xl">10</text>
<path d="M102.56 241.8V243.7" class="tk"/>
<text x="102.56" y="251.9" class="xl">20</text>
<path d="M153.51 241.8V243.7" class="tk"/>
<text x="153.51" y="251.9" class="xl">30</text>
<path d="M204.47 241.8V243.7" class="tk"/>
<text x="204.47" y="251.9" class="xl">40</text>
<path d="M255.42 241.8V243.7" class="tk"/>
<text x="255.42" y="251.9" class="xl">50</text>
<path d="M306.38 241.8V243.7" class="tk"/>
<text x="306.38" y="251.9" class="xl">60</text>
<path d="M357.34 241.8V243.7" class="tk"/>
<text x="357.34" y="251.9" class="xl">70</text>
<path d="M408.29 241.8V243.7" class="tk"/>
<text x="408.29" y="251.9" class="xl">80</text>
<path d="M459.25 241.8V243.7" class="tk"/>
<text x="459.25" y="251.9" class="xl">90</text>
<path d="M510.20 241.8V243.7" class="tk"/>
<text x="510.20" y="251.9" class="xl">100</text>
<text x="280.7" y="262.1" class="at">Problem-solving period (%)</text>
<text transform="translate(11.8,134.8) rotate(-90)" x="0" y="0" class="at" style="font-size:10px">Time on the problem element (%)</text>
<text x="39.2" y="39.7" class="lt">Group</text>
<path d="M37.1 51.2H46" class="lp"/><path d="M37.1 61.9H46" class="lr"/>
<text x="51.6" y="53.8" class="lx">Solvers after hint</text>
<text x="51.5" y="64.4" class="lx">NonSolvers after hint</text>
</g>
</svg>
</body></html>
